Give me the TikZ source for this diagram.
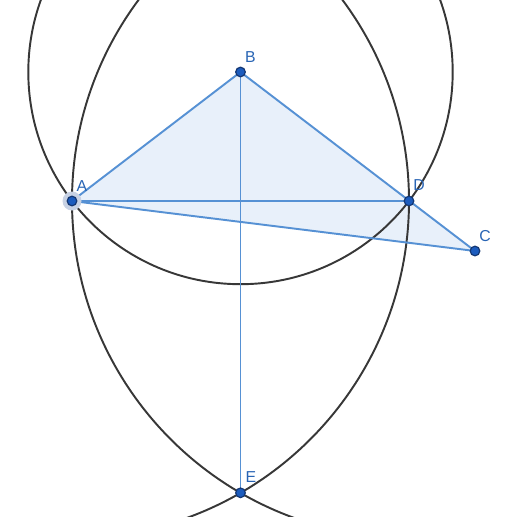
\documentclass[tikz,border=0pt]{standalone}
\usepackage{fontspec}
\setsansfont{Liberation Sans}
\definecolor{segblue}{RGB}{86,145,212}
\definecolor{fillblue}{RGB}{232,240,250}
\definecolor{ptblue}{RGB}{28,92,190}
\definecolor{ptedge}{RGB}{20,55,115}
\definecolor{labblue}{RGB}{40,100,180}
\definecolor{halo}{RGB}{200,210,228}
\definecolor{arcgray}{RGB}{55,55,55}
\tikzset{
  seg/.style={line width=1.1pt,color=segblue},
  arcline/.style={line width=1.1pt,color=arcgray},
  pt/.style={fill=ptblue,draw=ptedge,line width=0.7pt},
  lab/.style={color=labblue,font=\sffamily\fontsize{9}{10}\selectfont}
}
\begin{document}
\begin{tikzpicture}[x=0.02cm,y=0.02cm]
\useasboundingbox (0,0) rectangle (507,-517);
\clip (0,0) rectangle (507,-517);
\coordinate (A) at (72,-201);
\coordinate (B) at (240.5,-72);
\coordinate (C) at (475,-251);
\coordinate (D) at (409,-201);
\coordinate (E) at (240.5,-492.8);
% triangle
\fill[fillblue] (A)--(B)--(C)--cycle;
% circles
\draw[arcline] (B) circle (212.2);
\draw[arcline] (A) circle (337);
\draw[arcline] (D) circle (337);
% segments
\draw[seg] (A)--(B);
\draw[seg] (B)--(C);
\draw[seg] (C)--(A);
\draw[seg] (A)--(D);
\draw[seg] (B)--(E);
% points
\fill[halo] (A) circle (9.5);
\foreach \p in {A,B,C,D,E}
  \draw[pt] (\p) circle (4.8);
\node[lab] (labA) at (82,-186) {A};
\node[lab] (labB) at (250.5,-57) {B};
\node[lab] (labC) at (485,-236) {C};
\node[lab] (labD) at (419,-185) {D};
\node[lab] (labE) at (251,-477) {E};
\end{tikzpicture}
\end{document}
